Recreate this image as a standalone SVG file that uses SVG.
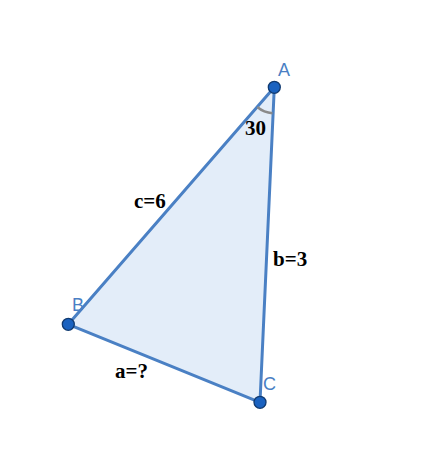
<svg xmlns="http://www.w3.org/2000/svg" width="439" height="450" viewBox="0 0 439 450">
<style>
.lbl{font-family:"Liberation Serif",serif;font-weight:bold;font-size:21px;fill:#000}
.pt{font-family:"Liberation Sans",sans-serif;font-size:18px;fill:#4a7fc4}
.dot{fill:#1a62c0;stroke:#103a70;stroke-width:1.3}
</style>
<rect width="439" height="450" fill="#fff"/>
<g id="triangle">
<polygon points="274.3,87.3 68.3,324.3 260,402.3" fill="#e3edf9" stroke="#4a80c4" stroke-width="3" stroke-linejoin="round"/>
</g>
<g id="angle">
<path d="M257.3,107 A26,26 0 0 0 272.5,113.2" fill="none" stroke="#8a8a8a" stroke-width="2.5"/>
<text class="lbl" x="245" y="135">30</text>
</g>
<g id="connectors">
<text class="lbl" x="134" y="208">c=6</text>
<text class="lbl" x="273" y="266">b=3</text>
<text class="lbl" x="115" y="378">a=?</text>
</g>
<g id="A"><circle class="dot" cx="274.3" cy="87.3" r="6"/><text class="pt" x="278" y="76">A</text></g>
<g id="B"><circle class="dot" cx="68.3" cy="324.3" r="6"/><text class="pt" x="72" y="311">B</text></g>
<g id="C"><circle class="dot" cx="260" cy="402.3" r="6"/><text class="pt" x="263" y="390">C</text></g>
</svg>
